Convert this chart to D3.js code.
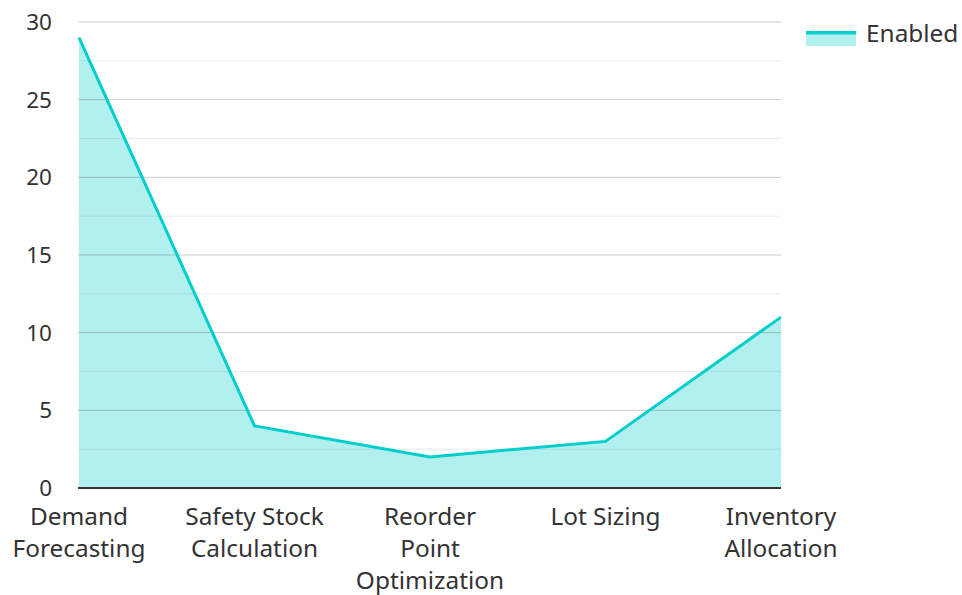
<!DOCTYPE html>
<html><head><meta charset="utf-8">
<script src="https://cdn.jsdelivr.net/npm/d3@7"></script>
<style>body{margin:0;background:#fff}svg{display:block;font-family:"Noto Sans",sans-serif}</style>
</head><body><svg id="c" width="962" height="595"></svg>
<script>
const categories = ["Demand Forecasting","Safety Stock Calculation","Reorder Point Optimization","Lot Sizing","Inventory Allocation"];
const tickLabels = [["Demand","Forecasting"],["Safety Stock","Calculation"],["Reorder","Point","Optimization"],["Lot Sizing"],["Inventory","Allocation"]];
const enabled = [29, 4, 2, 3, 11];
const yTicks = [0,5,10,15,20,25,30];
const yMinor = [2.5,7.5,12.5,17.5,22.5,27.5];
const seriesName = "Enabled";

const svg = d3.select("#c");
const x = d3.scalePoint().domain(categories).range([79,781]);
const y = d3.scaleLinear().domain([0,30]).range([488,22]);
const lineColor = "#00cecb", fillColor = "rgba(0,206,203,0.3)";

const data = categories.map((c,i)=>({c, v:enabled[i]}));
svg.append("path").datum(data)
  .attr("d", d3.area().x(d=>x(d.c)).y0(y(0)).y1(d=>y(d.v)))
  .attr("fill", fillColor);

// grid
svg.append("g").selectAll("line").data(yMinor).join("line")
  .attr("x1",78).attr("x2",781).attr("y1",d=>y(d)).attr("y2",d=>y(d))
  .attr("stroke","rgba(0,0,0,0.08)").attr("stroke-width",1);
svg.append("g").selectAll("line").data(yTicks.filter(d=>d>0)).join("line")
  .attr("x1",78).attr("x2",781).attr("y1",d=>y(d)).attr("y2",d=>y(d))
  .attr("stroke","rgba(0,0,0,0.2)").attr("stroke-width",1);

svg.append("path").datum(data)
  .attr("d", d3.line().x(d=>x(d.c)).y(d=>y(d.v)))
  .attr("fill","none").attr("stroke",lineColor).attr("stroke-width",3).attr("stroke-linejoin","miter");

// axis line
svg.append("line").attr("x1",78).attr("x2",781).attr("y1",y(0)).attr("y2",y(0))
  .attr("stroke","#333").attr("stroke-width",2);

// y labels
svg.append("g").selectAll("text").data(yTicks).join("text")
  .attr("x",52).attr("y",d=>y(d)).attr("dy","0.35em").attr("text-anchor","end")
  .attr("font-size",22.5).attr("fill","#333").text(d=>d);

// x labels
const xl = svg.append("g").selectAll("text").data(categories).join("text")
  .attr("text-anchor","middle").attr("font-size",24.4).attr("fill","#333")
  .attr("x",d=>x(d)).attr("y",525);
xl.each(function(d,i){
  d3.select(this).selectAll("tspan").data(tickLabels[i]).join("tspan")
    .attr("x",x(d)).attr("dy",(t,j)=>j===0?0:32).text(t=>t);
});

// legend
const lg = svg.append("g");
lg.append("rect").attr("x",806).attr("y",31).attr("width",50).attr("height",15).attr("fill",fillColor);
lg.append("rect").attr("x",806).attr("y",31).attr("width",50).attr("height",3.5).attr("fill",lineColor);
lg.append("text").attr("x",866).attr("y",33).attr("dy","0.35em").attr("font-size",24.4).attr("fill","#333").text(seriesName);
</script></body></html>
